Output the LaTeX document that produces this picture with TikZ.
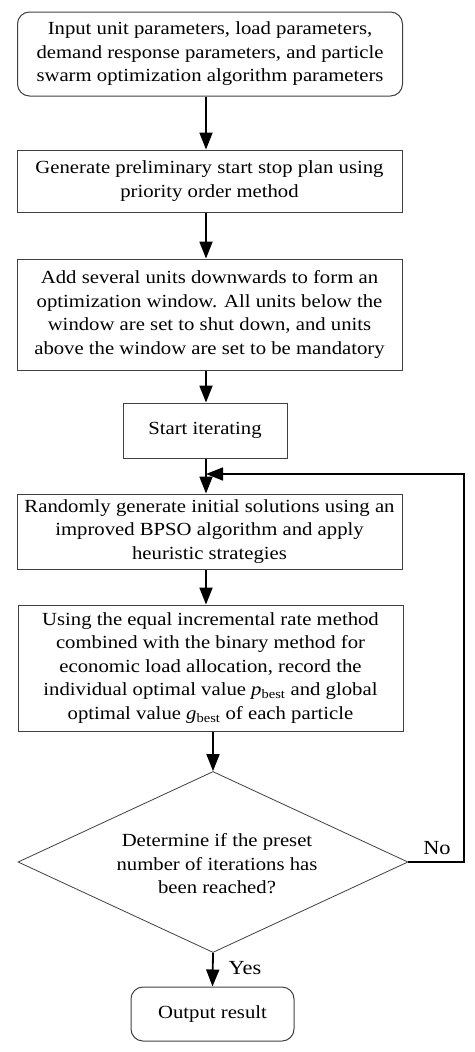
\documentclass[tikz,border=0pt]{standalone}
\usepackage{fontspec}
\setmainfont{Liberation Serif}[FakeStretch=1.12]
\usetikzlibrary{arrows.meta,shapes.geometric}
\begin{document}
\begin{tikzpicture}[x=1pt,y=-1pt,
  every node/.style={font=\fontsize{18.5}{23.5}\selectfont, align=center, inner sep=0pt},
  box/.style={draw=black!75, line width=1pt, minimum width=385pt},
  rbox/.style={box, rounded corners=12pt},
  dec/.style={diamond, draw=black!75, line width=0.8pt, minimum width=390pt, minimum height=181pt, aspect=2.15},
  arr/.style={line width=1.8pt, -{Triangle[length=17pt,width=13pt]}},
  lbl/.style={font=\fontsize{20}{24}\selectfont}
]
\useasboundingbox (0,0) rectangle (474,1052);
\node[rbox, minimum height=84pt] (b1) at (210,54) {Input unit parameters, load parameters,\\demand response parameters, and particle\\swarm optimization algorithm parameters};
\node[box, minimum height=62pt] (b2) at (209.5,181) {Generate preliminary start stop plan using\\priority order method};
\node[box, minimum height=111pt] (b3) at (209.5,314.5) {Add several units downwards to form an\\optimization window. All units below the\\window are set to shut down, and units\\above the window are set to be mandatory};
\node[box, minimum width=164pt, minimum height=55pt] (b4) at (205,430.5) {Start iterating};
\node[box, minimum height=75pt] (b5) at (209.5,531.5) {Randomly generate initial solutions using an\\improved BPSO algorithm and apply\\heuristic strategies};
\node[box, minimum height=126pt] (b6) at (210.5,668) {Using the equal incremental rate method\\combined with the binary method for\\economic load allocation, record the\\individual optimal value {\itshape p}\textsubscript{best} and global\\optimal value {\itshape g}\textsubscript{best} of each particle};
\node[dec] (d) at (213,862) {};
\node (dt) at (217,864) {Determine if the preset\\number of iterations has\\been reached?};
\node[rbox, minimum width=163pt, minimum height=54pt] (out) at (212.5,1014) {Output result};
\coordinate (ax) at (206,0);
\coordinate (bx) at (213,0);
\coordinate (fb) at (206,474);
\coordinate (rx) at (464,0);
\draw[arr] (b1.south -| ax) -- (b2.north -| ax);
\draw[arr] (b2.south -| ax) -- (b3.north -| ax);
\draw[arr] (b3.south -| ax) -- (b4.north -| ax);
\draw[arr] (b4.south -| ax) -- (b5.north -| ax);
\draw[arr] (b5.south -| ax) -- (b6.north -| ax);
\draw[arr] (b6.south -| bx) -- (d.north);
\draw[arr] (d.south) -- (out.north);
\draw[arr, line width=1.5pt] (d.east) -- (d.east -| rx) -- (rx |- fb) -- (fb);
\node[lbl] (no) at (437,848) {No};
\node[lbl] (yes) at (245,968) {Yes};
\end{tikzpicture}
\end{document}
